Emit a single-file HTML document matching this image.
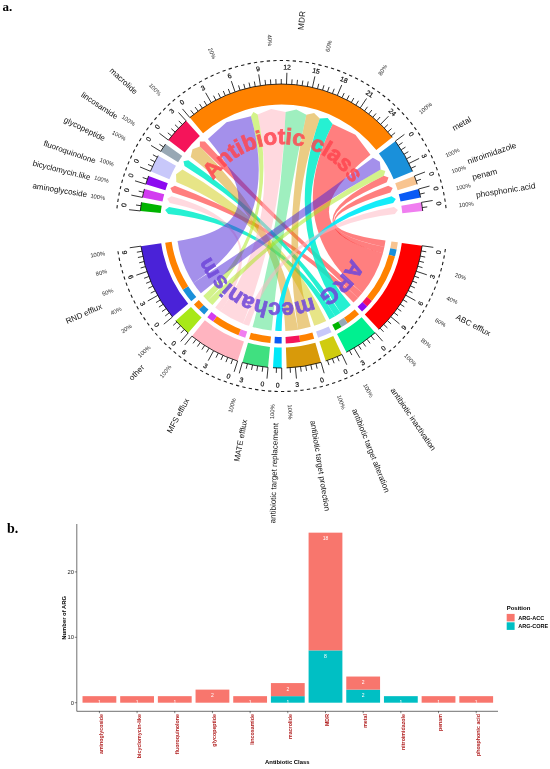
<!DOCTYPE html>
<html><head><meta charset="utf-8"><style>
html,body{margin:0;padding:0;background:#fff;}
body{width:550px;height:769px;overflow:hidden;position:relative;}
svg{position:absolute;left:0;top:0;}
text{font-family:"Liberation Sans",Arial,sans-serif;}
</style></head><body>
<svg width="550" height="769" viewBox="0 0 550 769">
<rect width="550" height="769" fill="#fff"/>
<text x="2.6" y="11.3" font-family="Liberation Serif" font-weight="bold" font-size="13" fill="#000" style="font-family:'Liberation Serif',serif">a.</text>
<text x="7" y="533.4" font-weight="bold" font-size="14" fill="#000" style="font-family:'Liberation Serif',serif">b.</text>
<g id="links">
<path d="M385.48,240.61 A105,105 0 0 1 384.38,246.97 Q281.5,226 388.2,185.85 L392.69,188.02 L390.46,192.48 Q281.5,226 385.48,240.61 Z" fill="#FF0000" fill-opacity="0.5"/>
<path d="M384.38,246.97 A105,105 0 0 1 382.9,253.25 Q281.5,226 383.84,175.78 L388.52,177.5 L386.73,182.15 Q281.5,226 384.38,246.97 Z" fill="#FF0000" fill-opacity="0.5"/>
<path d="M382.9,253.25 A105,105 0 0 1 362.31,293.04 Q281.5,226 332.65,124.12 L355.41,134.66 L370.47,154.72 Q281.5,226 382.9,253.25 Z" fill="#FF0000" fill-opacity="0.5"/>
<path d="M362.31,293.04 A105,105 0 0 1 358.04,297.88 Q281.5,226 199.86,146.44 L199.91,141.45 L204.89,141.58 Q281.5,226 362.31,293.04 Z" fill="#FF0000" fill-opacity="0.5"/>
<path d="M358.04,297.88 A105,105 0 0 1 353.48,302.44 Q281.5,226 172.56,192.4 L170.33,187.94 L174.83,185.78 Q281.5,226 358.04,297.88 Z" fill="#FF0000" fill-opacity="0.5"/>
<path d="M350.77,304.91 A105,105 0 0 1 340.58,312.8 Q281.5,226 319.78,118.62 L327.68,117.95 L332.65,124.12 Q281.5,226 350.77,304.91 Z" fill="#00EDCA" fill-opacity="0.85"/>
<path d="M340.58,312.8 A105,105 0 0 1 335.14,316.27 Q281.5,226 184.51,166.1 L183.47,161.22 L188.37,160.25 Q281.5,226 340.58,312.8 Z" fill="#00EDCA" fill-opacity="0.85"/>
<path d="M335.14,316.27 A105,105 0 0 1 329.5,319.39 Q281.5,226 168.15,213.89 L165.1,209.93 L169.1,206.95 Q281.5,226 335.14,316.27 Z" fill="#00EDCA" fill-opacity="0.85"/>
<path d="M326.21,321.01 A105,105 0 0 1 314.23,325.77 Q281.5,226 176.3,182.08 L176.05,174.16 L182.48,169.52 Q281.5,226 326.21,321.01 Z" fill="#D0CC10" fill-opacity="0.5"/>
<path d="M310.72,326.85 A105,105 0 0 1 298.14,329.67 Q281.5,226 306.33,114.74 L314.08,113.11 L319.78,118.62 Q281.5,226 310.72,326.85 Z" fill="#D89A0A" fill-opacity="0.5"/>
<path d="M298.14,329.67 A105,105 0 0 1 285.31,330.93 Q281.5,226 190.72,157.04 L192.47,149.32 L199.86,146.44 Q281.5,226 298.14,329.67 Z" fill="#D89A0A" fill-opacity="0.5"/>
<path d="M281.65,331 A105,105 0 0 1 275.2,330.81 Q281.5,226 391.56,196.3 L395.83,198.89 L393.18,203.12 Q281.5,226 281.65,331 Z" fill="#00EAF8" fill-opacity="0.92"/>
<path d="M271.55,330.53 A105,105 0 0 1 252.56,326.93 Q281.5,226 285.52,112.07 L296.43,109.45 L306.33,114.74 Q281.5,226 271.55,330.53 Z" fill="#40E080" fill-opacity="0.5"/>
<path d="M249.05,325.86 A105,105 0 0 1 242.98,323.68 Q281.5,226 393.91,207.03 L397.91,210.01 L394.86,213.97 Q281.5,226 249.05,325.86 Z" fill="#FFB4C0" fill-opacity="0.5"/>
<path d="M242.98,323.68 A105,105 0 0 1 220.38,311.38 Q281.5,226 257.68,114.52 L271.22,108.95 L285.52,112.07 Q281.5,226 242.98,323.68 Z" fill="#FFB4C0" fill-opacity="0.5"/>
<path d="M220.38,311.38 A105,105 0 0 1 215.25,307.46 Q281.5,226 169.84,203.04 L167.19,198.81 L171.46,196.23 Q281.5,226 220.38,311.38 Z" fill="#FFB4C0" fill-opacity="0.5"/>
<path d="M212.45,305.1 A105,105 0 0 1 207.72,300.71 Q281.5,226 380.56,169.59 L385.34,171.02 L383.84,175.78 Q281.5,226 212.45,305.1 Z" fill="#A8E818" fill-opacity="0.5"/>
<path d="M207.72,300.71 A105,105 0 0 1 203.27,296.04 Q281.5,226 250.88,116.19 L253.43,111.9 L257.68,114.52 Q281.5,226 207.72,300.71 Z" fill="#A8E818" fill-opacity="0.5"/>
<path d="M200.88,293.27 A105,105 0 0 1 193.24,282.88 Q281.5,226 372.9,157.87 L379.84,161.7 L380.56,169.59 Q281.5,226 200.88,293.27 Z" fill="#4A22D8" fill-opacity="0.5"/>
<path d="M193.24,282.88 A105,105 0 0 1 177.56,240.9 Q281.5,226 207.89,138.95 L226.52,122.16 L250.88,116.19 Q281.5,226 193.24,282.88 Z" fill="#4A22D8" fill-opacity="0.5"/>
</g>
<g id="inner">
<path d="M397.86,242.35 A117.5,117.5 0 0 1 396.63,249.47 L390.26,248.17 A111,111 0 0 0 391.42,241.45 Z" fill="#F8C490"/>
<path d="M396.63,249.47 A117.5,117.5 0 0 1 394.98,256.49 L388.7,254.8 A111,111 0 0 0 390.26,248.17 Z" fill="#1A90DA"/>
<path d="M394.98,256.49 A117.5,117.5 0 0 1 371.93,301.02 L366.93,296.87 A111,111 0 0 0 388.7,254.8 Z" fill="#FF8200"/>
<path d="M371.93,301.02 A117.5,117.5 0 0 1 367.15,306.43 L362.42,301.98 A111,111 0 0 0 366.93,296.87 Z" fill="#F5145A"/>
<path d="M367.15,306.43 A117.5,117.5 0 0 1 362.05,311.54 L357.6,306.81 A111,111 0 0 0 362.42,301.98 Z" fill="#8C0AF0"/>
<path d="M359.02,314.3 A117.5,117.5 0 0 1 347.61,323.14 L343.96,317.76 A111,111 0 0 0 354.73,309.42 Z" fill="#FF8200"/>
<path d="M347.61,323.14 A117.5,117.5 0 0 1 341.52,327.01 L338.2,321.42 A111,111 0 0 0 343.96,317.76 Z" fill="#98A8B4"/>
<path d="M341.52,327.01 A117.5,117.5 0 0 1 335.21,330.51 L332.24,324.73 A111,111 0 0 0 338.2,321.42 Z" fill="#00B400"/>
<path d="M331.53,332.32 A117.5,117.5 0 0 1 318.12,337.65 L316.1,331.47 A111,111 0 0 0 328.76,326.44 Z" fill="#C8C8FA"/>
<path d="M314.2,338.86 A117.5,117.5 0 0 1 300.12,342.01 L299.09,335.6 A111,111 0 0 0 312.39,332.61 Z" fill="#FF8200"/>
<path d="M300.12,342.01 A117.5,117.5 0 0 1 285.76,343.42 L285.53,336.93 A111,111 0 0 0 299.09,335.6 Z" fill="#F5145A"/>
<path d="M281.66,343.5 A117.5,117.5 0 0 1 274.45,343.29 L274.84,336.8 A111,111 0 0 0 281.65,337 Z" fill="#0A5AF5"/>
<path d="M270.36,342.97 A117.5,117.5 0 0 1 249.11,338.95 L250.9,332.7 A111,111 0 0 0 270.98,336.5 Z" fill="#FF8200"/>
<path d="M245.19,337.75 A117.5,117.5 0 0 1 238.4,335.31 L240.78,329.26 A111,111 0 0 0 247.2,331.57 Z" fill="#F07EF0"/>
<path d="M238.4,335.31 A117.5,117.5 0 0 1 213.1,321.54 L216.88,316.25 A111,111 0 0 0 240.78,329.26 Z" fill="#FF8200"/>
<path d="M213.1,321.54 A117.5,117.5 0 0 1 207.36,317.16 L211.46,312.12 A111,111 0 0 0 216.88,316.25 Z" fill="#D23CF0"/>
<path d="M204.23,314.52 A117.5,117.5 0 0 1 198.94,309.61 L203.51,304.98 A111,111 0 0 0 208.5,309.62 Z" fill="#1A90DA"/>
<path d="M198.94,309.61 A117.5,117.5 0 0 1 193.96,304.38 L198.8,300.04 A111,111 0 0 0 203.51,304.98 Z" fill="#FF8200"/>
<path d="M191.28,301.28 A117.5,117.5 0 0 1 182.73,289.65 L188.2,286.13 A111,111 0 0 0 196.27,297.11 Z" fill="#1A90DA"/>
<path d="M182.73,289.65 A117.5,117.5 0 0 1 165.19,242.68 L171.62,241.76 A111,111 0 0 0 188.2,286.13 Z" fill="#FF8200"/>
</g>
<g id="track">
<path d="M140.3,210.91 A142,142 0 0 1 141.5,202.27 L161.71,205.7 A121.5,121.5 0 0 0 160.69,213.09 Z" fill="#00B400"/>
<path d="M142.41,197.4 A142,142 0 0 1 144.43,188.91 L164.22,194.27 A121.5,121.5 0 0 0 162.49,201.53 Z" fill="#D23CF0"/>
<path d="M145.81,184.15 A142,142 0 0 1 148.63,175.9 L167.81,183.13 A121.5,121.5 0 0 0 165.4,190.19 Z" fill="#8C0AF0"/>
<path d="M150.46,171.29 A142,142 0 0 1 158.15,155.64 L175.96,165.8 A121.5,121.5 0 0 0 169.38,179.19 Z" fill="#C8C8FA"/>
<path d="M160.68,151.38 A142,142 0 0 1 165.49,144.11 L182.24,155.93 A121.5,121.5 0 0 0 178.13,162.16 Z" fill="#98A8B4"/>
<path d="M168.42,140.11 A142,142 0 0 1 186.08,120.84 L199.85,136.02 A121.5,121.5 0 0 0 184.75,152.51 Z" fill="#F5145A"/>
<path d="M189.81,117.57 A142,142 0 0 1 392.32,137.22 L376.32,150.03 A121.5,121.5 0 0 0 203.04,133.23 Z" fill="#FF8200"/>
<path d="M395.35,141.14 A142,142 0 0 1 412.58,171.38 L393.65,179.27 A121.5,121.5 0 0 0 378.92,153.39 Z" fill="#1A90DA"/>
<path d="M414.4,175.99 A142,142 0 0 1 417.22,184.25 L397.63,190.27 A121.5,121.5 0 0 0 395.22,183.21 Z" fill="#F8C490"/>
<path d="M418.6,189.01 A142,142 0 0 1 420.61,197.5 L400.53,201.61 A121.5,121.5 0 0 0 398.8,194.35 Z" fill="#0A5AF5"/>
<path d="M421.52,202.37 A142,142 0 0 1 422.71,211.01 L402.32,213.17 A121.5,121.5 0 0 0 401.31,205.78 Z" fill="#F07EF0"/>
<path d="M422.12,245.76 A142,142 0 0 1 378.85,329.38 L364.8,314.45 A121.5,121.5 0 0 0 401.82,242.91 Z" fill="#FF0000"/>
<path d="M375.18,332.71 A142,142 0 0 1 346.41,352.3 L337.04,334.06 A121.5,121.5 0 0 0 361.66,317.31 Z" fill="#00F090"/>
<path d="M341.96,354.49 A142,142 0 0 1 325.76,360.93 L319.37,341.45 A121.5,121.5 0 0 0 333.23,335.94 Z" fill="#D0CC10"/>
<path d="M321.02,362.39 A142,142 0 0 1 286.65,367.91 L285.91,347.42 A121.5,121.5 0 0 0 315.32,342.7 Z" fill="#D89A0A"/>
<path d="M281.7,368 A142,142 0 0 1 272.98,367.74 L274.21,347.28 A121.5,121.5 0 0 0 281.67,347.5 Z" fill="#00E8F8"/>
<path d="M268.04,367.36 A142,142 0 0 1 242.36,362.5 L248.01,342.79 A121.5,121.5 0 0 0 269.98,346.95 Z" fill="#40E080"/>
<path d="M237.62,361.05 A142,142 0 0 1 191.91,336.17 L204.84,320.26 A121.5,121.5 0 0 0 243.95,341.55 Z" fill="#FFB4C0"/>
<path d="M188.12,332.97 A142,142 0 0 1 175.71,320.72 L190.98,307.05 A121.5,121.5 0 0 0 201.6,317.53 Z" fill="#A8E818"/>
<path d="M172.47,316.97 A142,142 0 0 1 140.94,246.16 L161.23,243.25 A121.5,121.5 0 0 0 188.21,303.84 Z" fill="#4A22D8"/>
</g>
<path d="M140.3,210.91 A142,142 0 0 1 141.5,202.27 M140.3,210.91 L129.07,209.71 M140.96,205.72 L136.01,205 M142.41,197.4 A142,142 0 0 1 144.43,188.91 M142.41,197.4 L131.34,195.12 M143.56,192.29 L138.7,191.11 M145.81,184.15 A142,142 0 0 1 148.63,175.9 M145.81,184.15 L135.01,180.82 M147.44,179.18 L142.72,177.53 M150.46,171.29 A142,142 0 0 1 158.15,155.64 M150.46,171.29 L140.03,166.94 M152.57,166.5 L148.03,164.41 M154.85,161.79 L150.39,159.53 M157.3,157.17 L152.93,154.74 M160.68,151.38 A142,142 0 0 1 165.49,144.11 M160.68,151.38 L151.07,145.45 M163.52,146.98 L159.36,144.2 M168.42,140.11 A142,142 0 0 1 186.08,120.84 M168.42,140.11 L159.42,133.27 M171.66,136 L167.8,132.83 M175.06,132.01 L171.31,128.7 M178.59,128.15 L174.97,124.71 M182.27,124.43 L178.77,120.85 M186.08,120.84 L178.49,112.47 M189.81,117.57 A142,142 0 0 1 392.32,137.22 M189.81,117.57 L182.51,108.94 M193.87,114.27 L190.78,110.33 M198.04,111.11 L195.1,107.07 M202.33,108.12 L199.55,103.97 M206.73,105.28 L204.1,101.03 M211.23,102.61 L205.64,92.79 M215.83,100.1 L213.51,95.67 M220.51,97.76 L218.36,93.25 M225.28,95.6 L223.3,91.01 M230.12,93.62 L228.31,88.96 M235.04,91.82 L231.34,81.14 M240.01,90.2 L238.55,85.41 M245.04,88.76 L243.76,83.93 M250.13,87.51 L249.02,82.63 M255.25,86.45 L254.33,81.53 M260.41,85.57 L258.73,74.4 M265.6,84.89 L265.04,79.92 M270.81,84.4 L270.44,79.42 M276.04,84.11 L275.85,79.11 M281.27,84 L281.26,79 M286.51,84.09 L286.9,72.8 M291.73,84.37 L292.09,79.38 M296.94,84.84 L297.49,79.87 M302.14,85.51 L302.86,80.56 M307.3,86.36 L308.21,81.45 M312.43,87.41 L314.89,76.38 M317.51,88.64 L318.78,83.81 M322.55,90.06 L324,85.28 M327.53,91.67 L329.15,86.94 M332.45,93.46 L334.25,88.79 M337.3,95.42 L341.74,85.03 M342.08,97.57 L344.21,93.05 M346.77,99.89 L349.07,95.45 M351.37,102.38 L353.83,98.03 M355.88,105.04 L358.5,100.78 M360.29,107.86 L366.56,98.46 M364.59,110.85 L367.51,106.79 M368.78,113.99 L371.85,110.04 M372.84,117.28 L376.06,113.45 M376.79,120.72 L380.14,117.01 M380.6,124.3 L388.49,116.21 M384.28,128.02 L387.9,124.57 M387.83,131.88 L391.57,128.56 M391.22,135.86 L395.09,132.69 M395.35,141.14 A142,142 0 0 1 412.58,171.38 M395.35,141.14 L404.41,134.38 M398.4,145.39 L402.52,142.55 M401.29,149.75 L405.51,147.07 M404.02,154.22 L408.34,151.69 M406.58,158.78 L410.99,156.42 M408.98,163.44 L419.12,158.46 M411.2,168.18 L415.76,166.14 M414.4,175.99 A142,142 0 0 1 417.22,184.25 M414.4,175.99 L424.98,172.01 M416.16,180.92 L420.9,179.34 M418.6,189.01 A142,142 0 0 1 420.61,197.5 M418.6,189.01 L429.51,186.06 M419.87,194.09 L424.74,192.96 M421.52,202.37 A142,142 0 0 1 422.71,211.01 M421.52,202.37 L432.66,200.49 M422.3,207.54 L427.25,206.89 M422.12,245.76 A142,142 0 0 1 378.85,329.38 M422.12,245.76 L433.31,247.34 M421.29,250.93 L426.22,251.81 M420.28,256.07 L425.17,257.12 M419.08,261.16 L423.92,262.4 M417.69,266.21 L422.48,267.62 M416.11,271.2 L426.83,274.8 M414.36,276.13 L419.04,277.89 M412.42,280.99 L417.03,282.93 M410.3,285.78 L414.84,287.88 M408.01,290.48 L412.47,292.75 M405.55,295.1 L415.42,300.6 M402.92,299.63 L407.2,302.22 M400.12,304.05 L404.3,306.8 M397.17,308.37 L401.24,311.27 M394.05,312.58 L398.02,315.63 M390.79,316.67 L399.48,323.88 M387.37,320.63 L391.1,323.96 M383.81,324.47 L387.41,327.94 M380.11,328.17 L383.59,331.77 M375.18,332.71 A142,142 0 0 1 346.41,352.3 M375.18,332.71 L382.64,341.2 M371.19,336.09 L374.34,339.97 M367.07,339.32 L370.08,343.31 M362.83,342.4 L365.7,346.5 M358.49,345.32 L361.2,349.52 M354.04,348.07 L359.81,357.79 M349.49,350.66 L351.89,355.05 M341.96,354.49 A142,142 0 0 1 325.76,360.93 M341.96,354.49 L346.77,364.71 M337.18,356.63 L339.15,361.23 M332.33,358.59 L334.12,363.26 M327.41,360.37 L329.03,365.1 M321.02,362.39 A142,142 0 0 1 286.65,367.91 M321.02,362.39 L324.17,373.24 M315.97,363.75 L317.18,368.6 M310.87,364.93 L311.9,369.82 M305.73,365.92 L306.58,370.84 M300.56,366.72 L301.23,371.67 M295.36,367.32 L296.46,378.57 M290.14,367.74 L290.44,372.73 M281.7,368 A142,142 0 0 1 272.98,367.74 M281.7,368 L281.71,379.3 M276.47,367.91 L276.29,372.91 M268.04,367.36 A142,142 0 0 1 242.36,362.5 M268.04,367.36 L266.97,378.61 M262.84,366.77 L262.18,371.72 M257.66,365.98 L256.82,370.91 M252.52,365.01 L251.5,369.91 M247.42,363.85 L246.22,368.7 M242.36,362.5 L239.24,373.36 M237.62,361.05 A142,142 0 0 1 191.91,336.17 M237.62,361.05 L234.13,371.8 M232.67,359.34 L230.95,364.04 M227.79,357.45 L225.9,362.08 M222.98,355.38 L220.92,359.94 M218.26,353.14 L216.03,357.61 M213.61,350.72 L208.21,360.65 M209.06,348.13 L206.51,352.43 M204.61,345.38 L201.9,349.59 M200.26,342.47 L197.4,346.57 M196.03,339.39 L193.02,343.39 M191.91,336.17 L184.78,344.93 M188.12,332.97 A142,142 0 0 1 175.71,320.72 M188.12,332.97 L180.68,341.49 M184.24,329.46 L180.81,333.1 M180.49,325.8 L176.93,329.32 M176.88,322.01 L173.2,325.39 M172.47,316.97 A142,142 0 0 1 140.94,246.16 M172.47,316.97 L163.79,324.21 M169.19,312.89 L165.23,315.95 M166.06,308.69 L162,311.61 M163.09,304.38 L158.92,307.14 M160.29,299.97 L156.02,302.57 M157.64,295.45 L147.79,300.98 M155.17,290.84 L150.72,293.12 M152.86,286.14 L148.33,288.26 M150.73,281.36 L146.13,283.31 M148.78,276.5 L144.11,278.28 M147.01,271.57 L136.31,275.2 M145.42,266.59 L140.63,268.02 M144.02,261.54 L139.18,262.8 M142.8,256.45 L137.92,257.53 M141.78,251.32 L136.86,252.21 M140.94,246.16 L129.75,247.76" fill="none" stroke="#111" stroke-width="0.85"/>
<path d="M116.94,208.41 A165.5,165.5 0 0 1 446.08,208.53 M445.39,249.03 A165.5,165.5 0 0 1 117.68,249.49" fill="none" stroke="#1a1a1a" stroke-width="1.1" stroke-dasharray="3.3 3.2"/>
<g font-size="6.8" fill="#111" stroke="#111" stroke-width="0.2" text-anchor="middle" dominant-baseline="central">
<text x="123.88" y="205.11" transform="rotate(-82.45 123.88 205.11)">0</text>
<text x="126.62" y="190.04" transform="rotate(-76.93 126.62 190.04)">0</text>
<text x="130.8" y="175.31" transform="rotate(-71.41 130.8 175.31)">0</text>
<text x="136.37" y="161.05" transform="rotate(-65.89 136.37 161.05)">0</text>
<text x="148.38" y="139.05" transform="rotate(-56.85 148.38 139.05)">0</text>
<text x="157.36" y="126.65" transform="rotate(-51.33 157.36 126.65)">0</text>
<text x="171.71" y="110.99" transform="rotate(-43.67 171.71 110.99)">3</text>
<text x="181.93" y="102.03" transform="rotate(-38.77 181.93 102.03)">0</text>
<text x="202.82" y="87.83" transform="rotate(-29.66 202.82 87.83)">3</text>
<text x="229.47" y="75.75" transform="rotate(-19.1 229.47 75.75)">6</text>
<text x="257.89" y="68.76" transform="rotate(-8.54 257.89 68.76)">9</text>
<text x="287.1" y="67.1" transform="rotate(2.02 287.1 67.1)">12</text>
<text x="316.13" y="70.82" transform="rotate(12.58 316.13 70.82)">15</text>
<text x="343.98" y="79.79" transform="rotate(23.14 343.98 79.79)">18</text>
<text x="369.72" y="93.72" transform="rotate(33.7 369.72 93.72)">21</text>
<text x="392.47" y="112.13" transform="rotate(44.26 392.47 112.13)">24</text>
<text x="411.35" y="134.23" transform="rotate(54.75 411.35 134.23)">0</text>
<text x="424.24" y="155.95" transform="rotate(63.86 424.24 155.95)">3</text>
<text x="431.68" y="173.79" transform="rotate(70.83 431.68 173.79)">0</text>
<text x="436.01" y="188.48" transform="rotate(76.35 436.01 188.48)">0</text>
<text x="438.9" y="203.51" transform="rotate(81.87 438.9 203.51)">0</text>
<text x="438.34" y="252.11" transform="rotate(-80.55 438.34 252.11)">0</text>
<text x="432.23" y="276.61" transform="rotate(-71.44 432.23 276.61)">3</text>
<text x="420.4" y="303.38" transform="rotate(-60.88 420.4 303.38)">6</text>
<text x="403.87" y="327.52" transform="rotate(-50.32 403.87 327.52)">9</text>
<text x="383.34" y="348.1" transform="rotate(-39.83 383.34 348.1)">0</text>
<text x="362.72" y="362.69" transform="rotate(-30.72 362.72 362.69)">3</text>
<text x="345.54" y="371.53" transform="rotate(-23.75 345.54 371.53)">0</text>
<text x="321.87" y="379.79" transform="rotate(-14.71 321.87 379.79)">0</text>
<text x="297.02" y="384.24" transform="rotate(-5.6 297.02 384.24)">3</text>
<text x="277.7" y="384.95" transform="rotate(1.37 277.7 384.95)">0</text>
<text x="262.43" y="383.85" transform="rotate(6.89 262.43 383.85)">0</text>
<text x="241.56" y="379.9" transform="rotate(14.55 241.56 379.9)">3</text>
<text x="228.56" y="375.93" transform="rotate(19.45 228.56 375.93)">0</text>
<text x="205.49" y="365.65" transform="rotate(28.56 205.49 365.65)">3</text>
<text x="184.33" y="351.86" transform="rotate(37.67 184.33 351.86)">6</text>
<text x="173.94" y="343.1" transform="rotate(42.57 173.94 343.1)">0</text>
<text x="156.88" y="324.74" transform="rotate(51.61 156.88 324.74)">0</text>
<text x="142.81" y="303.76" transform="rotate(60.72 142.81 303.76)">3</text>
<text x="130.91" y="277.03" transform="rotate(71.28 130.91 277.03)">6</text>
<text x="124.73" y="252.54" transform="rotate(80.39 124.73 252.54)">9</text>
</g>
<g font-size="5.8" fill="#2a2a2a" text-anchor="middle" dominant-baseline="central">
<text x="97.8" y="196.84" transform="rotate(9.02 97.8 196.84)">100%</text>
<text x="101.46" y="179.3" transform="rotate(14.54 101.46 179.3)">100%</text>
<text x="106.78" y="162.2" transform="rotate(20.06 106.78 162.2)">100%</text>
<text x="118.98" y="135.54" transform="rotate(29.1 118.98 135.54)">100%</text>
<text x="128.43" y="120.33" transform="rotate(34.62 128.43 120.33)">100%</text>
<text x="155.08" y="89.57" transform="rotate(47.18 155.08 89.57)">100%</text>
<text x="212.08" y="53.44" transform="rotate(68.08 212.08 53.44)">20%</text>
<text x="269.78" y="40.37" transform="rotate(86.39 269.78 40.37)">40%</text>
<text x="328.67" y="46.08" transform="rotate(-75.31 328.67 46.08)">60%</text>
<text x="382.79" y="70" transform="rotate(-57 382.79 70)">80%</text>
<text x="425.43" y="108.19" transform="rotate(-39.3 425.43 108.19)">100%</text>
<text x="452.43" y="152.67" transform="rotate(-23.22 452.43 152.67)">100%</text>
<text x="458.7" y="169.45" transform="rotate(-17.7 458.7 169.45)">100%</text>
<text x="463.31" y="186.76" transform="rotate(-12.18 463.31 186.76)">100%</text>
<text x="466.24" y="204.43" transform="rotate(-6.66 466.24 204.43)">100%</text>
<text x="460.52" y="276.47" transform="rotate(15.74 460.52 276.47)">20%</text>
<text x="452.09" y="300.13" transform="rotate(23.49 452.09 300.13)">40%</text>
<text x="440.54" y="322.44" transform="rotate(31.23 440.54 322.44)">60%</text>
<text x="426.1" y="342.99" transform="rotate(38.98 426.1 342.99)">80%</text>
<text x="410.43" y="360.07" transform="rotate(46.12 410.43 360.07)">100%</text>
<text x="368.25" y="390.53" transform="rotate(62.2 368.25 390.53)">100%</text>
<text x="341.32" y="402.12" transform="rotate(71.24 341.32 402.12)">100%</text>
<text x="290.2" y="411.8" transform="rotate(87.32 290.2 411.8)">100%</text>
<text x="272.28" y="411.77" transform="rotate(272.84 272.28 411.77)">100%</text>
<text x="232.11" y="405.32" transform="rotate(285.4 232.11 405.32)">100%</text>
<text x="165.66" y="371.52" transform="rotate(308.52 165.66 371.52)">100%</text>
<text x="144.23" y="351.52" transform="rotate(317.56 144.23 351.52)">100%</text>
<text x="126.4" y="328.67" transform="rotate(326.5 126.4 328.67)">20%</text>
<text x="116.02" y="310.93" transform="rotate(332.83 116.02 310.93)">40%</text>
<text x="107.66" y="292.15" transform="rotate(339.17 107.66 292.15)">60%</text>
<text x="101.42" y="272.56" transform="rotate(345.5 101.42 272.56)">80%</text>
<text x="97.67" y="254.33" transform="rotate(351.24 97.67 254.33)">100%</text>
</g>
<g font-size="8.0" fill="#111" dominant-baseline="central">
<text x="87.01" y="194.64" text-anchor="end" transform="rotate(9.16 87.01 194.64)">aminoglycoside</text>
<text x="90.5" y="177.74" text-anchor="end" transform="rotate(14.18 90.5 177.74)">bicyclomycin.like</text>
<text x="95.46" y="161.21" text-anchor="end" transform="rotate(19.2 95.46 161.21)">fluoroquinolone</text>
<text x="104.71" y="139.09" text-anchor="end" transform="rotate(26.18 104.71 139.09)">glycopeptide</text>
<text x="117.15" y="117.38" text-anchor="end" transform="rotate(33.46 117.15 117.38)">lincosamide</text>
<text x="136.26" y="92.91" text-anchor="end" transform="rotate(42.5 136.26 92.91)">macrolide</text>
<text x="300.52" y="29.92" font-size="8.3" text-anchor="start" transform="rotate(-84.46 300.52 29.92)">MDR</text>
<text x="452.69" y="128.51" font-size="8.3" text-anchor="start" transform="rotate(-29.66 452.69 128.51)">metal</text>
<text x="467.59" y="161.34" font-size="8.3" text-anchor="start" transform="rotate(-19.16 467.59 161.34)">nitroimidazole</text>
<text x="472.36" y="177.21" font-size="8.3" text-anchor="start" transform="rotate(-14.34 472.36 177.21)">penam</text>
<text x="476.01" y="194.77" font-size="8.3" text-anchor="start" transform="rotate(-9.12 476.01 194.77)">phosphonic.acid</text>
<text x="456.46" y="316.54" text-anchor="start" transform="rotate(27.36 456.46 316.54)">ABC efflux</text>
<text x="392.34" y="388.86" text-anchor="start" transform="rotate(55.76 392.34 388.86)">antibiotic inactivation</text>
<text x="354.28" y="409.06" text-anchor="start" transform="rotate(68.32 354.28 409.06)">antibiotic target alteration</text>
<text x="312.73" y="420.51" text-anchor="start" transform="rotate(80.88 312.73 420.51)">antibiotic target protection</text>
<text x="275.72" y="422.92" text-anchor="end" transform="rotate(271.68 275.72 422.92)">antibiotic target replacement</text>
<text x="244.86" y="419.56" text-anchor="end" transform="rotate(280.72 244.86 419.56)">MATE efflux</text>
<text x="187.32" y="399.03" text-anchor="end" transform="rotate(298.56 187.32 399.03)">MFS efflux</text>
<text x="143.08" y="366.17" text-anchor="end" transform="rotate(314.64 143.08 366.17)">other</text>
<text x="101.53" y="306.13" text-anchor="end" transform="rotate(336 101.53 306.13)">RND efflux</text>
</g>
<defs>
<path id="tp1" d="M213.28,180.5 A82,82 0 1 1 349.72,271.5 A82,82 0 1 1 213.28,180.5"/>
<path id="tp2" d="M351.29,258.54 A77,77 0 1 1 211.71,193.46 A77,77 0 1 1 351.29,258.54"/>
</defs>
<text font-size="22.5" font-weight="bold" fill="#FF4650" stroke="#FF4650" stroke-width="0.8" opacity="0.85"><textPath href="#tp1" textLength="164.44" lengthAdjust="spacing">Antibiotic class</textPath></text>
<text font-size="22.5" font-weight="bold" fill="#7048DA" stroke="#7048DA" stroke-width="0.8" opacity="0.87"><textPath href="#tp2" textLength="177.4" lengthAdjust="spacing">ARG mechanism</textPath></text>

<!-- bar chart -->
<rect x="82.51" y="696.16" width="33.8" height="6.54" fill="#F8766D"/>
<rect x="120.19" y="696.16" width="33.8" height="6.54" fill="#F8766D"/>
<rect x="157.87" y="696.16" width="33.8" height="6.54" fill="#F8766D"/>
<rect x="195.55" y="689.62" width="33.8" height="13.08" fill="#F8766D"/>
<rect x="233.23" y="696.16" width="33.8" height="6.54" fill="#F8766D"/>
<rect x="270.91" y="696.16" width="33.8" height="6.54" fill="#00BFC4"/>
<rect x="270.91" y="683.08" width="33.8" height="13.08" fill="#F8766D"/>
<rect x="308.59" y="650.38" width="33.8" height="52.32" fill="#00BFC4"/>
<rect x="308.59" y="532.66" width="33.8" height="117.72" fill="#F8766D"/>
<rect x="346.27" y="689.62" width="33.8" height="13.08" fill="#00BFC4"/>
<rect x="346.27" y="676.54" width="33.8" height="13.08" fill="#F8766D"/>
<rect x="383.95" y="696.16" width="33.8" height="6.54" fill="#00BFC4"/>
<rect x="421.63" y="696.16" width="33.8" height="6.54" fill="#F8766D"/>
<rect x="459.31" y="696.16" width="33.8" height="6.54" fill="#F8766D"/>
<g font-size="5" fill="#fff" text-anchor="middle" dominant-baseline="central">
<text x="99.41" y="701.76">1</text>
<text x="137.09" y="701.76">1</text>
<text x="174.77" y="701.76">1</text>
<text x="212.45" y="695.22">2</text>
<text x="250.13" y="701.76">1</text>
<text x="287.81" y="701.76">1</text>
<text x="287.81" y="688.68">2</text>
<text x="325.49" y="655.98">8</text>
<text x="325.49" y="538.26">18</text>
<text x="363.17" y="695.22">2</text>
<text x="363.17" y="682.14">2</text>
<text x="400.85" y="701.76">1</text>
<text x="438.53" y="701.76">1</text>
<text x="476.21" y="701.76">1</text>
</g>
<path d="M76.8,524 V711.3 H498" fill="none" stroke="#333" stroke-width="0.7"/>
<path d="M76.8,702.7 h-2 M76.8,637.3 h-2 M76.8,571.9 h-2 M99.41,711 v2.2 M137.09,711 v2.2 M174.77,711 v2.2 M212.45,711 v2.2 M250.13,711 v2.2 M287.81,711 v2.2 M325.49,711 v2.2 M363.17,711 v2.2 M400.85,711 v2.2 M438.53,711 v2.2 M476.21,711 v2.2" fill="none" stroke="#333" stroke-width="0.6"/>
<g font-size="5.8" fill="#222" text-anchor="end" dominant-baseline="central">
<text x="74" y="702.7">0</text><text x="74" y="637.3">10</text><text x="74" y="571.9">20</text>
</g>
<g font-size="5.3" fill="#B22222" font-weight="bold" text-anchor="end">
<text transform="translate(103.31,714) rotate(-90)">aminoglycoside</text>
<text transform="translate(140.99,714) rotate(-90)">bicyclomycin-like</text>
<text transform="translate(178.67,714) rotate(-90)">fluoroquinolone</text>
<text transform="translate(216.35,714) rotate(-90)">glycopeptide</text>
<text transform="translate(254.03,714) rotate(-90)">lincosamide</text>
<text transform="translate(291.71,714) rotate(-90)">macrolide</text>
<text transform="translate(329.39,714) rotate(-90)">MDR</text>
<text transform="translate(367.07,714) rotate(-90)">metal</text>
<text transform="translate(404.75,714) rotate(-90)">nitroimidazole</text>
<text transform="translate(442.43,714) rotate(-90)">penam</text>
<text transform="translate(480.11,714) rotate(-90)">phosphonic acid</text>
</g>
<text transform="translate(65.8,617.8) rotate(-90)" font-size="5.9" font-weight="bold" fill="#000" text-anchor="middle">Number of ARG</text>
<text x="287.3" y="764.4" font-size="5.9" font-weight="bold" fill="#000" text-anchor="middle">Antibiotic Class</text>
<text x="506.7" y="610.3" font-size="6" font-weight="bold" fill="#000">Position</text>
<rect x="506.7" y="613.9" width="7.9" height="7.5" fill="#F8766D"/>
<rect x="506.7" y="622.3" width="7.9" height="7.6" fill="#00BFC4"/>
<text x="518.2" y="617.7" font-size="5.5" font-weight="bold" fill="#000" dominant-baseline="central">ARG-ACC</text>
<text x="518.2" y="626.2" font-size="5.5" font-weight="bold" fill="#000" dominant-baseline="central">ARG-CORE</text>
</svg>
</body></html>
